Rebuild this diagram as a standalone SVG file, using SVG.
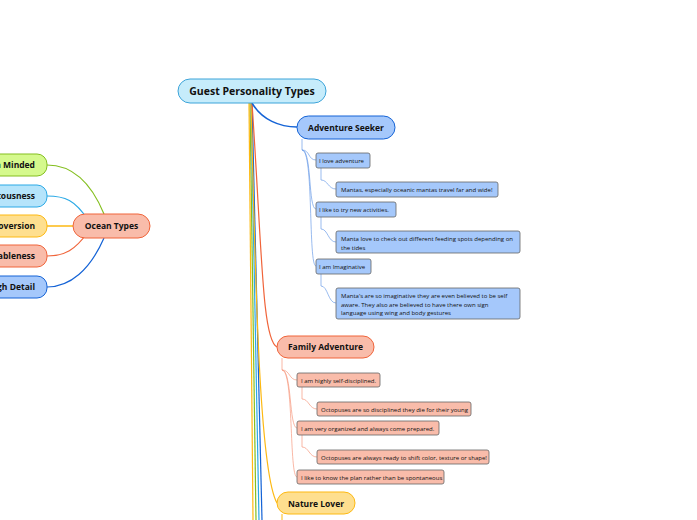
<svg xmlns="http://www.w3.org/2000/svg" width="697" height="520" viewBox="0 0 697 520">
<style>
text{font-family:"Open Sans","Noto Sans",sans-serif;fill:#111}
.m{font-size:8.5px;font-weight:bold}
.l{font-size:6px}
.c{fill:none}
.bl{fill:#a5c8fb}
.sa{fill:#f9bcaa}
.leaf{stroke:#666;stroke-width:0.8}
</style>
<rect width="697" height="520" fill="#fff"/>
<g id="connectors" class="c" stroke-width="1.2">
<path d="M250 103 L256 520" stroke="#84bf1f"/>
<path d="M251 103 L259 520" stroke="#2aa9e6"/>
<path d="M249 103 L253 520" stroke="#fdb913"/>
<path d="M252 103 L262 520" stroke="#1463d6"/>
<path d="M251 103 C255 250 258 470 277 503" stroke="#fdb913"/>
<path d="M252 103 C262 250 262 340 277 347" stroke="#f0643a"/>
<path d="M252 103 C262 120 280 127 297 127" stroke="#1463d6" stroke-width="1.5"/>
<g stroke="#6d9ee8" stroke-width="0.7">
<path d="M302 139 V150 C310 150 308 160 316 160"/>
<path d="M302 150 C312 150 308 209 316 209"/>
<path d="M302 150 C314 150 308 266 316 266"/>
<path d="M321 168 V180 C328 180 328 189 336 189"/>
<path d="M321 217 V229 C328 229 328 242 336 242"/>
<path d="M321 274 V286 C328 286 328 303 336 303"/>
</g>
<g stroke="#f79a80" stroke-width="0.7">
<path d="M282 358 V370 C290 370 289 380 297 380"/>
<path d="M282 370 C292 370 289 428 297 428"/>
<path d="M282 370 C294 370 289 477 297 477"/>
<path d="M302 387 V399 C309 399 309 409 317 409"/>
<path d="M302 435 V447 C309 447 309 457 317 457"/>
</g>
<path d="M104 214 C90 180 70 165 47 165" stroke="#84bf1f"/>
<path d="M88 220 C75 200 65 196 47 196" stroke="#2aa9e6"/>
<path d="M73 226 H47" stroke="#fdb913" stroke-width="1.5"/>
<path d="M88 232 C75 250 65 256 47 256" stroke="#f0643a"/>
<path d="M104 238 C90 270 70 287 47 287" stroke="#1463d6"/>
</g>
<g id="root"><rect x="178" y="79" width="148" height="24" rx="12" fill="#c6ecfb" stroke="#3da4d9"/><text x="252" y="95" text-anchor="middle" font-size="10.5" font-weight="bold">Guest Personality Types</text></g>
<g id="ocean"><rect x="73" y="214" width="77" height="24" rx="12" class="sa" stroke="#f0643a"/><text x="111.5" y="229" text-anchor="middle" class="m">Ocean Types</text></g>
<g id="open"><rect x="-60" y="154" width="107" height="22" rx="10" fill="#d5f98d" stroke="#84bf1f"/><text x="35" y="168" text-anchor="end" class="m">Open Minded</text></g>
<g id="consc"><rect x="-60" y="185" width="107" height="22" rx="10" fill="#b5e4fb" stroke="#2aa9e6"/><text x="35" y="199" text-anchor="end" class="m">Conscientousness</text></g>
<g id="extro"><rect x="-60" y="215" width="107" height="22" rx="10" fill="#fedf8f" stroke="#fdb913"/><text x="35" y="229" text-anchor="end" class="m">Extroversion</text></g>
<g id="agree"><rect x="-60" y="245" width="107" height="22" rx="10" class="sa" stroke="#f0643a"/><text x="35" y="259" text-anchor="end" class="m">Agreeableness</text></g>
<g id="detail"><rect x="-60" y="276" width="107" height="22" rx="10" class="bl" stroke="#1463d6"/><text x="35" y="290" text-anchor="end" class="m">High Detail</text></g>
<g id="adv"><rect x="297" y="116" width="98" height="23" rx="11.5" class="bl" stroke="#1463d6"/><text x="346" y="131" text-anchor="middle" class="m">Adventure Seeker</text></g>
<g id="a1"><rect x="316" y="153" width="54" height="15" rx="2" class="bl leaf"/><text x="319" y="163" class="l">I love adventure</text></g>
<g id="a1a"><rect x="336" y="182" width="162" height="15" rx="2" class="bl leaf"/><text x="341" y="192" class="l">Mantas, especially oceanic mantas travel far and wide!</text></g>
<g id="a2"><rect x="316" y="202" width="80" height="15" rx="2" class="bl leaf"/><text x="319" y="212" class="l">I like to try new activities.</text></g>
<g id="a2a"><rect x="336" y="231" width="184" height="22" rx="2" class="bl leaf"/><text x="341" y="241" class="l">Manta love to check out different feeding spots depending on<tspan x="341" dy="8.5">the tides</tspan></text></g>
<g id="a3"><rect x="316" y="259" width="55" height="15" rx="2" class="bl leaf"/><text x="319" y="269" class="l">I am Imaginative</text></g>
<g id="a3a"><rect x="336" y="288" width="184" height="31" rx="2" class="bl leaf"/><text x="341" y="298" class="l">Manta's are so imaginative they are even believed to be self<tspan x="341" dy="8.5">aware.  They also are believed to have there own sign</tspan><tspan x="341" dy="8.5">language using wing and body gestures</tspan></text></g>
<g id="fam"><rect x="277" y="336" width="97" height="22" rx="11" class="sa" stroke="#f0643a"/><text x="325.5" y="350" text-anchor="middle" class="m">Family Adventure</text></g>
<g id="f1"><rect x="297" y="373" width="83" height="14" rx="2" class="sa leaf"/><text x="301" y="383" class="l">I am highly self-disciplined.</text></g>
<g id="f1a"><rect x="317" y="402" width="154" height="14" rx="2" class="sa leaf"/><text x="321" y="412" class="l">Octopuses are so disciplined they die for their young</text></g>
<g id="f2"><rect x="297" y="421" width="142" height="14" rx="2" class="sa leaf"/><text x="301" y="431" class="l">I am very organized and always come prepared.</text></g>
<g id="f2a"><rect x="317" y="450" width="172" height="14" rx="2" class="sa leaf"/><text x="321" y="460" class="l">Octopuses are always ready to shift color, texture or shape!</text></g>
<g id="f3"><rect x="297" y="470" width="147" height="14" rx="2" class="sa leaf"/><text x="301" y="480" class="l">I like to know the plan rather than be spontaneous</text></g>
<g id="nat"><rect x="277" y="492" width="78" height="22" rx="11" fill="#fedf8f" stroke="#fdb913"/><text x="316" y="507" text-anchor="middle" class="m">Nature Lover</text><path d="M282 514 V520" stroke="#fdb913" class="c"/></g>
</svg>
